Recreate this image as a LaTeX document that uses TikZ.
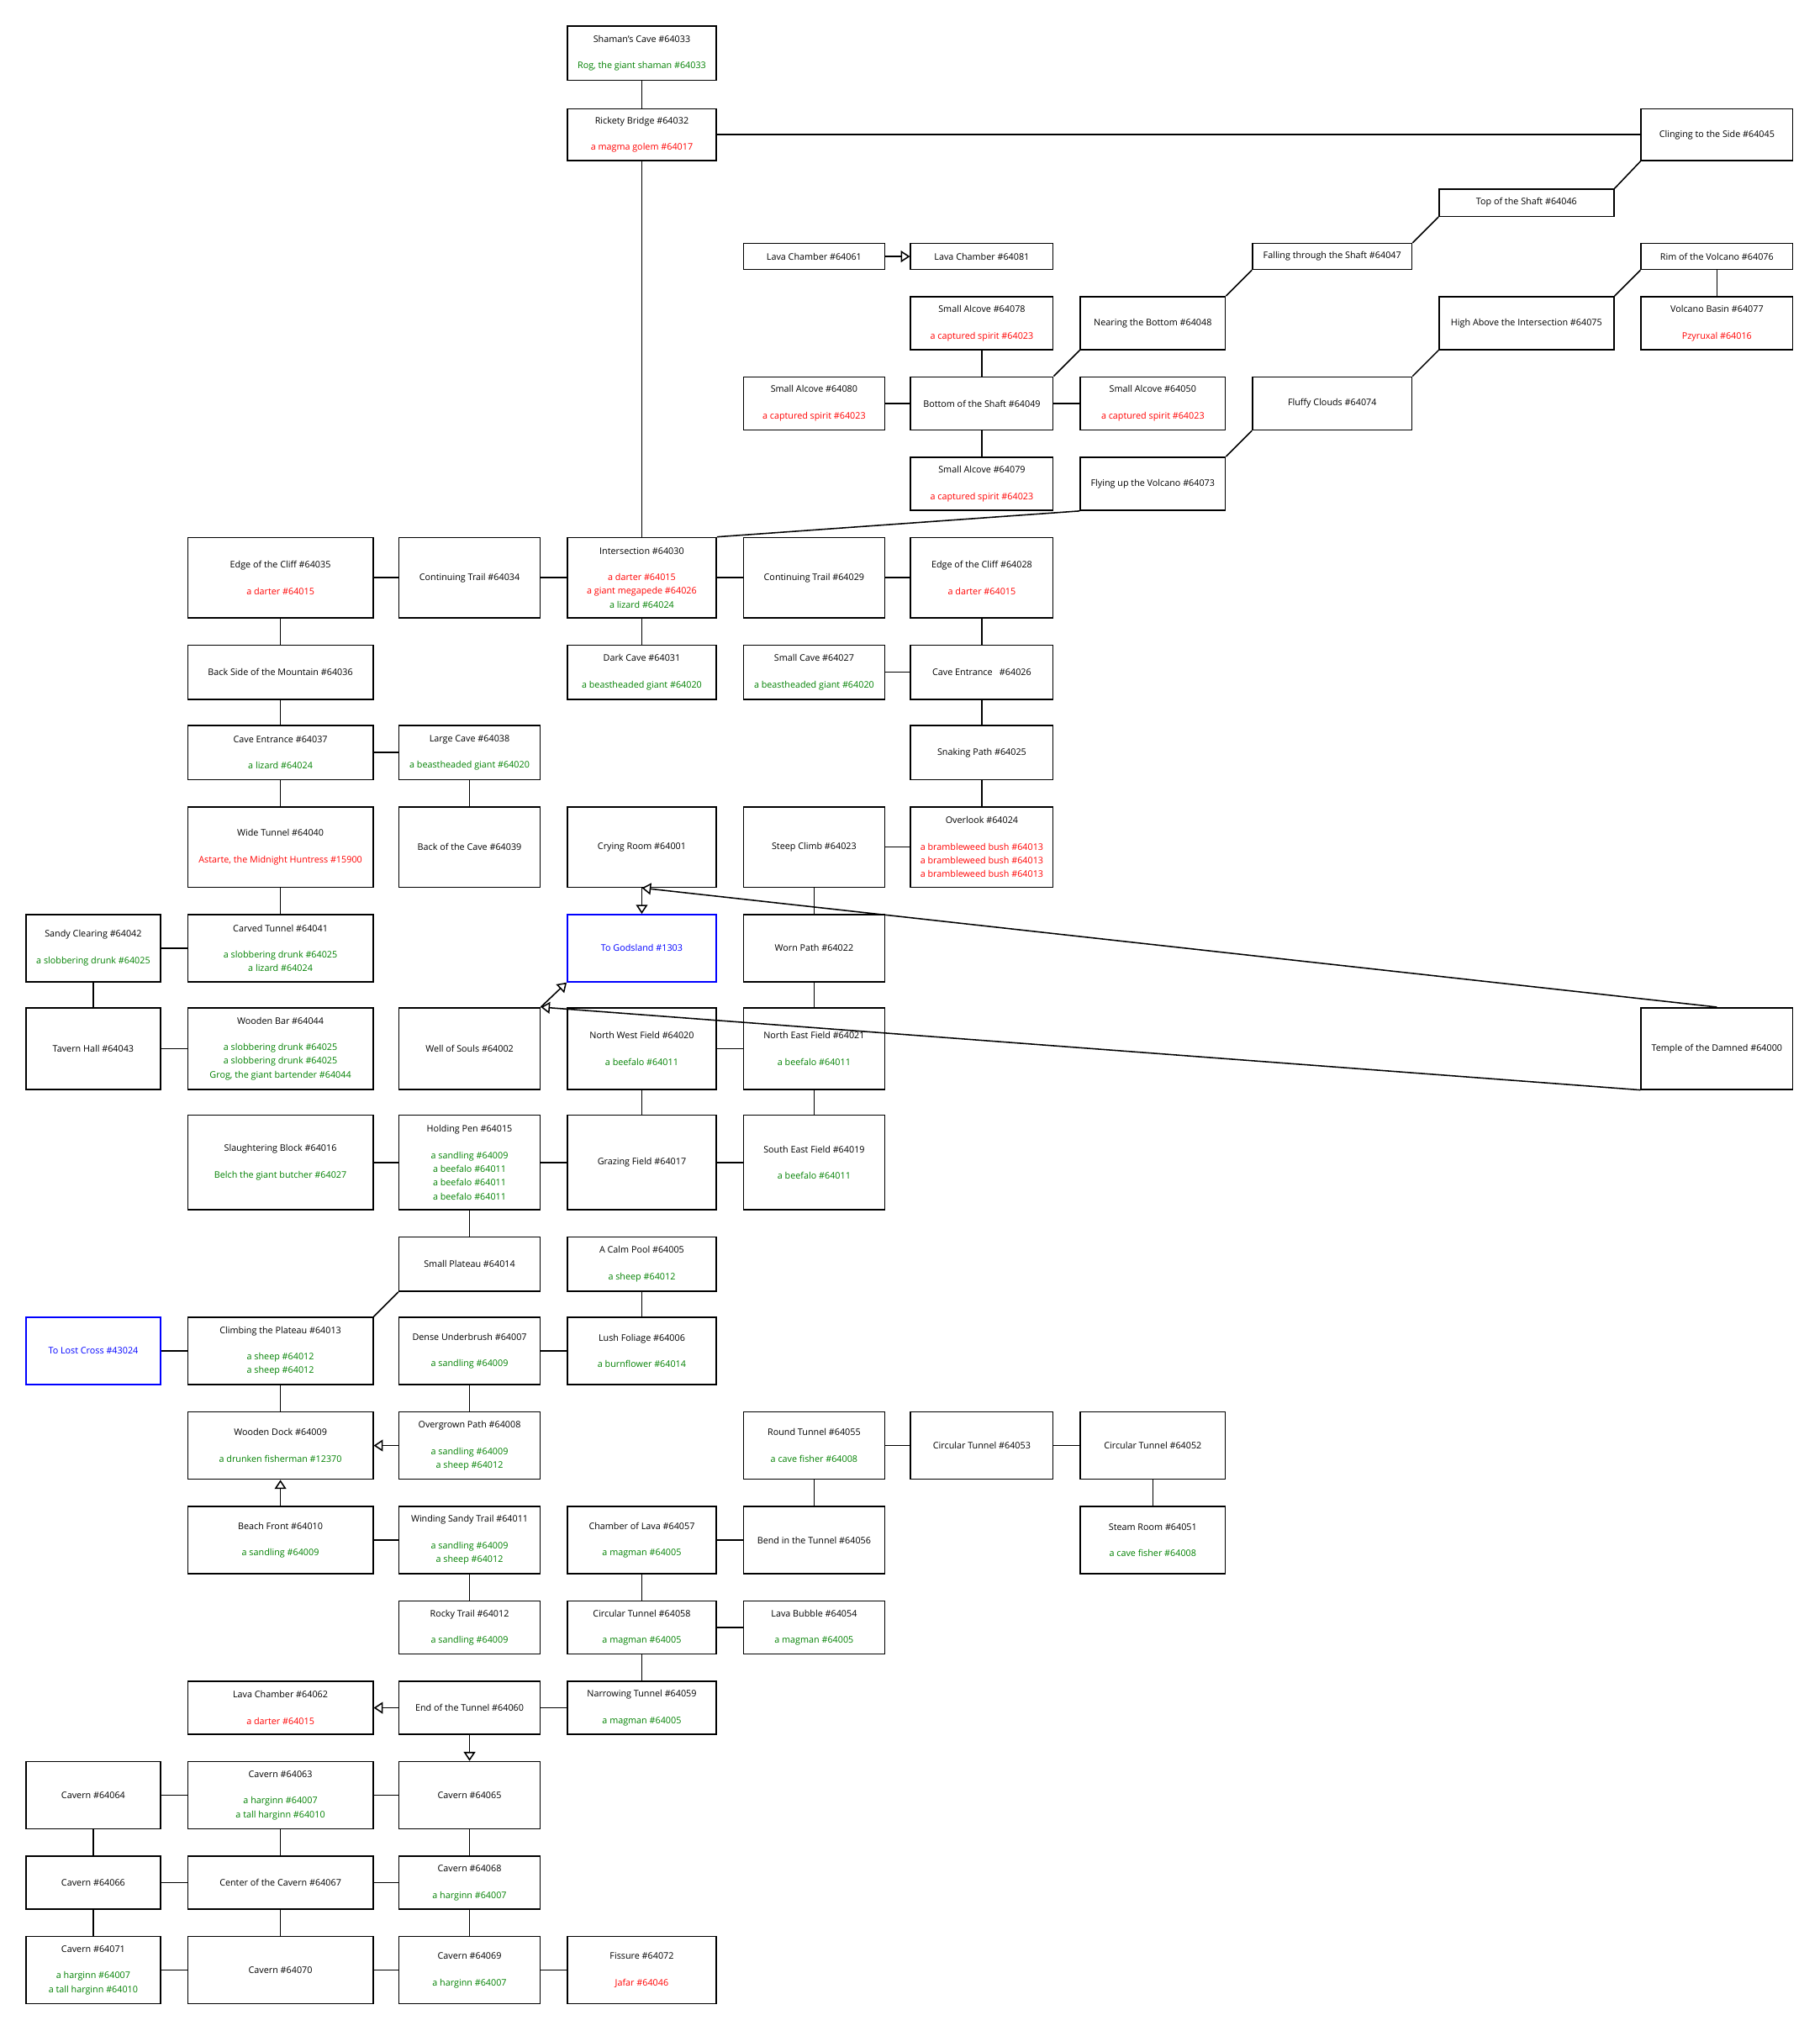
\documentclass[tikz,border=0pt]{standalone}
\usepackage{fontspec}
\setmainfont{Open Sans}
\usetikzlibrary{arrows.meta}
\definecolor{gg}{RGB}{0,128,0}
\newcommand\gr[1]{\textcolor{gg}{#1}}
\newcommand\rd[1]{\textcolor{red}{#1}}
\newcommand\sk{\\[10pt]}
\newcommand\Rm[7][box]{\node[#1,minimum width={(#5-#3)*1pt},minimum height={(#6-#4)*1pt}] (#2) at ({(#3+#5)/2},{(#4+#6)/2}) {#7};}
\begin{document}
\begin{tikzpicture}[x=1pt,y=-1pt,
 box/.style={draw,line width=1pt,inner sep=0pt,align=center,font=\fontsize{7}{10.5}\selectfont},
 bbox/.style={box,draw=blue,text=blue},
 ln/.style={line width=1pt},
 ar/.style={line width=1pt,-{Triangle[open,width=9pt,length=7pt,fill=white]}}]
\useasboundingbox (0,0) rectangle (1405,1568);
\Rm{shaman}{438}{20}{553}{62}{Shaman's Cave \#64033\sk\gr{Rog, the giant shaman \#64033}}
\Rm{rickety}{438}{84}{553}{124}{Rickety Bridge \#64032\sk\rd{a magma golem \#64017}}
\Rm{clinging}{1267}{84}{1384}{124}{Clinging to the Side \#64045}
\Rm{topshaft}{1111}{146}{1246}{167}{Top of the Shaft \#64046}
\Rm{lcsa}{574}{188}{683}{208}{Lava Chamber \#64061}
\Rm{lcsb}{703}{188}{813}{208}{Lava Chamber \#64081}
\Rm{falling}{967}{188}{1090}{208}{Falling through the Shaft \#64047}
\Rm{rim}{1267}{188}{1384}{208}{Rim of the Volcano \#64076}
\Rm{sasa}{703}{229}{813}{270}{Small Alcove \#64078\sk\rd{a captured spirit \#64023}}
\Rm{nearing}{834}{229}{946}{270}{Nearing the Bottom \#64048}
\Rm{high}{1111}{229}{1246}{270}{High Above the Intersection \#64075}
\Rm{basin}{1267}{229}{1384}{270}{Volcano Basin \#64077\sk\rd{Pzyruxal \#64016}}
\Rm{sasb}{574}{291}{683}{332}{Small Alcove \#64080\sk\rd{a captured spirit \#64023}}
\Rm{bottom}{703}{291}{813}{332}{Bottom of the Shaft \#64049}
\Rm{sasc}{834}{291}{946}{332}{Small Alcove \#64050\sk\rd{a captured spirit \#64023}}
\Rm{fluffy}{967}{291}{1090}{332}{Fluffy Clouds \#64074}
\Rm{sasd}{703}{353}{813}{394}{Small Alcove \#64079\sk\rd{a captured spirit \#64023}}
\Rm{flying}{834}{353}{946}{394}{Flying up the Volcano \#64073}
\Rm{edgea}{145}{415}{288}{477}{Edge of the Cliff \#64035\sk\rd{a darter \#64015}}
\Rm{cta}{308}{415}{417}{477}{Continuing Trail \#64034}
\Rm{inter}{438}{415}{553}{477}{Intersection \#64030\sk\rd{a darter \#64015}\\\rd{a giant megapede \#64026}\\\gr{a lizard \#64024}}
\Rm{ctb}{574}{415}{683}{477}{Continuing Trail \#64029}
\Rm{edgeb}{703}{415}{813}{477}{Edge of the Cliff \#64028\sk\rd{a darter \#64015}}
\Rm{backside}{145}{498}{288}{540}{Back Side of the Mountain \#64036}
\Rm{dark}{438}{498}{553}{540}{Dark Cave \#64031\sk\gr{a beastheaded giant \#64020}}
\Rm{smallcave}{574}{498}{683}{540}{Small Cave \#64027\sk\gr{a beastheaded giant \#64020}}
\Rm{cea}{703}{498}{813}{540}{Cave Entrance~~ \#64026}
\Rm{ceb}{145}{560}{288}{602}{Cave Entrance \#64037\sk\gr{a lizard \#64024}}
\Rm{large}{308}{560}{417}{602}{Large Cave \#64038\sk\gr{a beastheaded giant \#64020}}
\Rm{snaking}{703}{560}{813}{602}{Snaking Path \#64025}
\Rm{wide}{145}{623}{288}{685}{Wide Tunnel \#64040\sk\rd{Astarte, the Midnight Huntress \#15900}}
\Rm{backcave}{308}{623}{417}{685}{Back of the Cave \#64039}
\Rm{crying}{438}{623}{553}{685}{Crying Room \#64001}
\Rm{steep}{574}{623}{683}{685}{Steep Climb \#64023}
\Rm{overlook}{703}{623}{813}{685}{Overlook \#64024\sk\rd{a brambleweed bush \#64013}\\\rd{a brambleweed bush \#64013}\\\rd{a brambleweed bush \#64013}}
\Rm{sandy}{20}{706}{124}{758}{Sandy Clearing \#64042\sk\gr{a slobbering drunk \#64025}}
\Rm{carved}{145}{706}{288}{758}{Carved Tunnel \#64041\sk\gr{a slobbering drunk \#64025}\\\gr{a lizard \#64024}}
\Rm[bbox]{godsland}{438}{706}{553}{758}{To Godsland \#1303}
\Rm{worn}{574}{706}{683}{758}{Worn Path \#64022}
\Rm{tavern}{20}{778}{124}{841}{Tavern Hall \#64043}
\Rm{bar}{145}{778}{288}{841}{Wooden Bar \#64044\sk\gr{a slobbering drunk \#64025}\\\gr{a slobbering drunk \#64025}\\\gr{Grog, the giant bartender \#64044}}
\Rm{well}{308}{778}{417}{841}{Well of Souls \#64002}
\Rm{nw}{438}{778}{553}{841}{North West Field \#64020\sk\gr{a beefalo \#64011}}
\Rm{ne}{574}{778}{683}{841}{North East Field \#64021\sk\gr{a beefalo \#64011}}
\Rm{temple}{1267}{778}{1384}{841}{Temple of the Damned \#64000}
\Rm{slaughter}{145}{861}{288}{934}{Slaughtering Block \#64016\sk\gr{Belch the giant butcher \#64027}}
\Rm{pen}{308}{861}{417}{934}{Holding Pen \#64015\sk\gr{a sandling \#64009}\\\gr{a beefalo \#64011}\\\gr{a beefalo \#64011}\\\gr{a beefalo \#64011}}
\Rm{grazing}{438}{861}{553}{934}{Grazing Field \#64017}
\Rm{se}{574}{861}{683}{934}{South East Field \#64019\sk\gr{a beefalo \#64011}}
\Rm{plateau}{308}{955}{417}{997}{Small Plateau \#64014}
\Rm{calm}{438}{955}{553}{997}{A Calm Pool \#64005\sk\gr{a sheep \#64012}}
\Rm[bbox]{lost}{20}{1017}{124}{1069}{To Lost Cross \#43024}
\Rm{climbing}{145}{1017}{288}{1069}{Climbing the Plateau \#64013\sk\gr{a sheep \#64012}\\\gr{a sheep \#64012}}
\Rm{dense}{308}{1017}{417}{1069}{Dense Underbrush \#64007\sk\gr{a sandling \#64009}}
\Rm{lush}{438}{1017}{553}{1069}{Lush Foliage \#64006\sk\gr{a burnflower \#64014}}
\Rm{dock}{145}{1090}{288}{1142}{Wooden Dock \#64009\sk\gr{a drunken fisherman \#12370}}
\Rm{overgrown}{308}{1090}{417}{1142}{Overgrown Path \#64008\sk\gr{a sandling \#64009}\\\gr{a sheep \#64012}}
\Rm{round}{574}{1090}{683}{1142}{Round Tunnel \#64055\sk\gr{a cave fisher \#64008}}
\Rm{circa}{703}{1090}{813}{1142}{Circular Tunnel \#64053}
\Rm{circb}{834}{1090}{946}{1142}{Circular Tunnel \#64052}
\Rm{beach}{145}{1163}{288}{1215}{Beach Front \#64010\sk\gr{a sandling \#64009}}
\Rm{winding}{308}{1163}{417}{1215}{Winding Sandy Trail \#64011\sk\gr{a sandling \#64009}\\\gr{a sheep \#64012}}
\Rm{chamber}{438}{1163}{553}{1215}{Chamber of Lava \#64057\sk\gr{a magman \#64005}}
\Rm{bend}{574}{1163}{683}{1215}{Bend in the Tunnel \#64056}
\Rm{steam}{834}{1163}{946}{1215}{Steam Room \#64051\sk\gr{a cave fisher \#64008}}
\Rm{rocky}{308}{1236}{417}{1277}{Rocky Trail \#64012\sk\gr{a sandling \#64009}}
\Rm{circc}{438}{1236}{553}{1277}{Circular Tunnel \#64058\sk\gr{a magman \#64005}}
\Rm{bubble}{574}{1236}{683}{1277}{Lava Bubble \#64054\sk\gr{a magman \#64005}}
\Rm{lcsc}{145}{1298}{288}{1339}{Lava Chamber \#64062\sk\rd{a darter \#64015}}
\Rm{tend}{308}{1298}{417}{1339}{End of the Tunnel \#64060}
\Rm{narrow}{438}{1298}{553}{1339}{Narrowing Tunnel \#64059\sk\gr{a magman \#64005}}
\Rm{cva}{20}{1360}{124}{1412}{Cavern \#64064}
\Rm{cvb}{145}{1360}{288}{1412}{Cavern \#64063\sk\gr{a harginn \#64007}\\\gr{a tall harginn \#64010}}
\Rm{cvc}{308}{1360}{417}{1412}{Cavern \#64065}
\Rm{cvd}{20}{1433}{124}{1474}{Cavern \#64066}
\Rm{center}{145}{1433}{288}{1474}{Center of the Cavern \#64067}
\Rm{cve}{308}{1433}{417}{1474}{Cavern \#64068\sk\gr{a harginn \#64007}}
\Rm{cvf}{20}{1495}{124}{1547}{Cavern \#64071\sk\gr{a harginn \#64007}\\\gr{a tall harginn \#64010}}
\Rm{cvg}{145}{1495}{288}{1547}{Cavern \#64070}
\Rm{cvh}{308}{1495}{417}{1547}{Cavern \#64069\sk\gr{a harginn \#64007}}
\Rm{fissure}{438}{1495}{553}{1547}{Fissure \#64072\sk\rd{Jafar \#64046}}
% connectors
\draw[ln] (shaman)--(rickety);
\draw[ln] (rickety)--(clinging);
\draw[ln] (rickety)--(inter);
\draw[ln] (clinging.south west)--(topshaft.north east);
\draw[ln] (topshaft.south west)--(falling.north east);
\draw[ln] (falling.south west)--(nearing.north east);
\draw[ln] (nearing.south west)--(bottom.north east);
\draw[ar] (lcsa)--(lcsb);
\draw[ln] (sasa)--(bottom);
\draw[ln] (sasb)--(bottom);
\draw[ln] (bottom)--(sasc);
\draw[ln] (bottom)--(sasd);
\draw[ln] (rim)--(basin);
\draw[ln] (rim.south west)--(high.north east);
\draw[ln] (high.south west)--(fluffy.north east);
\draw[ln] (fluffy.south west)--(flying.north east);
\draw[ln] (flying.south west)--(inter.north east);
\draw[ln] (inter)--(cta);
\draw[ln] (cta)--(edgea);
\draw[ln] (inter)--(ctb);
\draw[ln] (ctb)--(edgeb);
\draw[ln] (inter)--(dark);
\draw[ln] (edgea)--(backside);
\draw[ln] (edgeb)--(cea);
\draw[ln] (smallcave)--(cea);
\draw[ln] (cea)--(snaking);
\draw[ln] (snaking)--(overlook);
\draw[ln] (backside)--(ceb);
\draw[ln] (ceb)--(large);
\draw[ln] (large)--(backcave);
\draw[ln] (ceb)--(wide);
\draw[ln] (overlook)--(steep);
\draw[ln] (steep)--(worn);
\draw[ln] (worn)--(ne);
\draw[ar] (crying.south)--(godsland.north);
\draw[ar] (well.north east)--(godsland.south west);
\draw[ar] (temple.north)--(crying.south);
\draw[ar] (temple.south west)--(well.north east);
\draw[ln] (wide)--(carved);
\draw[ln] (carved)--(sandy);
\draw[ln] (sandy)--(tavern);
\draw[ln] (tavern)--(bar);
\draw[ln] (nw)--(ne);
\draw[ln] (nw)--(grazing);
\draw[ln] (ne)--(se);
\draw[ln] (grazing)--(se);
\draw[ln] (pen)--(grazing);
\draw[ln] (slaughter)--(pen);
\draw[ln] (pen)--(plateau);
\draw[ln] (plateau.south west)--(climbing.north east);
\draw[ln] (lost)--(climbing);
\draw[ln] (climbing)--(dock);
\draw[ln] (calm)--(lush);
\draw[ln] (dense)--(lush);
\draw[ln] (dense)--(overgrown);
\draw[ar] (overgrown)--(dock);
\draw[ar] (beach)--(dock);
\draw[ln] (beach)--(winding);
\draw[ln] (winding)--(rocky);
\draw[ln] (round)--(circa);
\draw[ln] (circa)--(circb);
\draw[ln] (round)--(bend);
\draw[ln] (circb)--(steam);
\draw[ln] (chamber)--(bend);
\draw[ln] (chamber)--(circc);
\draw[ln] (circc)--(bubble);
\draw[ln] (circc)--(narrow);
\draw[ln] (narrow)--(tend);
\draw[ar] (tend)--(lcsc);
\draw[ar] (tend)--(cvc);
\draw[ln] (cva)--(cvb);
\draw[ln] (cvb)--(cvc);
\draw[ln] (cva)--(cvd);
\draw[ln] (cvb)--(center);
\draw[ln] (cvc)--(cve);
\draw[ln] (cvd)--(center);
\draw[ln] (center)--(cve);
\draw[ln] (cvd)--(cvf);
\draw[ln] (center)--(cvg);
\draw[ln] (cve)--(cvh);
\draw[ln] (cvf)--(cvg);
\draw[ln] (cvg)--(cvh);
\draw[ln] (cvh)--(fissure);
\end{tikzpicture}
\end{document}
